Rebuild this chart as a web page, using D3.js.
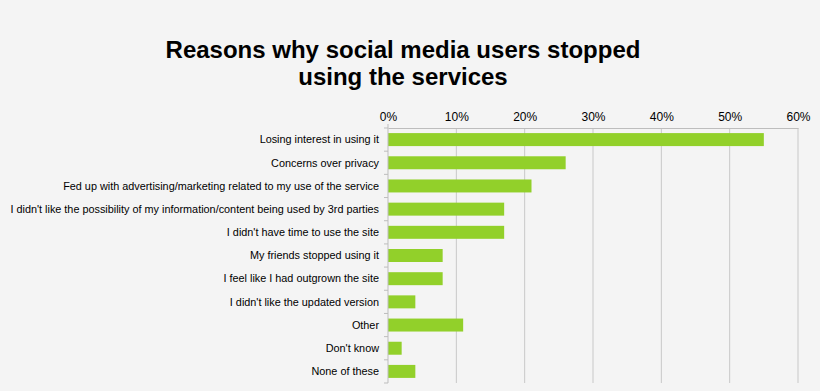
<!DOCTYPE html>
<html><head><meta charset="utf-8">
<script src="https://cdn.jsdelivr.net/npm/d3@7"></script>
<style>body{margin:0;background:#f4f4f4;}svg{display:block;}</style>
</head><body>
<script>
const categories = [
  "Losing interest in using it",
  "Concerns over privacy",
  "Fed up with advertising/marketing related to my use of the service",
  "I didn't like the possibility of my information/content being used by 3rd parties",
  "I didn't have time to use the site",
  "My friends stopped using it",
  "I feel like I had outgrown the site",
  "I didn't like the updated version",
  "Other",
  "Don't know ",
  "None of these"
];
const values = [0.55, 0.26, 0.21, 0.17, 0.17, 0.08, 0.08, 0.04, 0.11, 0.02, 0.04];
const tickValues = [0, 0.1, 0.2, 0.3, 0.4, 0.5, 0.6];
const titleLines = ["Reasons why social media users stopped", "using the services"];

const W = 820, H = 391;
const svg = d3.select("body").append("svg").attr("width", W).attr("height", H);
svg.append("rect").attr("width", W).attr("height", H).attr("fill", "#f4f4f4");

const x = d3.scaleLinear().domain([0, 0.6]).range([388, 798]);
const y = d3.scaleBand().domain(categories).range([128, 383]).paddingInner(0.44).paddingOuter(0.22);
const yb = d3.scaleBand().domain(categories).range([128, 383]);

const font = "Liberation Sans, Arial, sans-serif";

// title
const title = svg.append("text").attr("x", 403).attr("y", 58).attr("text-anchor", "middle")
  .attr("font-family", font).attr("font-weight", "bold").attr("font-size", 24).attr("fill", "#000");
title.selectAll("tspan").data(titleLines).join("tspan")
  .attr("x", 403).attr("dy", (d, i) => i === 0 ? 0 : 27).text(d => d);

// gridlines
svg.append("g").selectAll("line").data(tickValues.slice(1)).join("line")
  .attr("x1", d => x(d)).attr("x2", d => x(d)).attr("y1", 128).attr("y2", 383)
  .attr("stroke", "#c8c8c8").attr("stroke-width", 1);

// top axis
const xAxis = d3.axisTop(x).tickValues(tickValues).tickFormat(d3.format(".0%")).tickSize(0).tickPadding(7);
const gx = svg.append("g").attr("transform", "translate(0,128)").call(xAxis);
gx.select(".domain").attr("stroke", "#bdbdbd");
gx.selectAll("text").attr("font-family", font).attr("font-size", 12).attr("fill", "#000");

// bars
svg.append("g").selectAll("rect").data(categories).join("rect")
  .attr("x", x(0)).attr("y", d => y(d))
  .attr("width", (d, i) => x(values[i]) - x(0)).attr("height", y.bandwidth())
  .attr("fill", "#92d02a");

// left axis line and ticks
svg.append("line").attr("x1", x(0)).attr("x2", x(0)).attr("y1", 124).attr("y2", 383)
  .attr("stroke", "#bdbdbd");
const bounds = categories.map(d => yb(d)).concat([383]);
svg.append("g").selectAll("line").data(bounds).join("line")
  .attr("x1", x(0) - 4).attr("x2", x(0)).attr("y1", d => d).attr("y2", d => d)
  .attr("stroke", "#bdbdbd");

// category labels
const labels = svg.append("g").selectAll("text").data(categories).join("text")
  .attr("x", 379).attr("y", d => yb(d) + yb.bandwidth() / 2).attr("dy", "0.35em")
  .attr("text-anchor", "end").attr("font-family", font).attr("font-size", 11)
  .attr("fill", "#000").text(d => d);
let maxW = 0;
labels.each(function () { maxW = Math.max(maxW, this.getComputedTextLength()); });
const fs = 11 * 369 / maxW;
labels.attr("font-size", fs);
</script>
</body></html>
